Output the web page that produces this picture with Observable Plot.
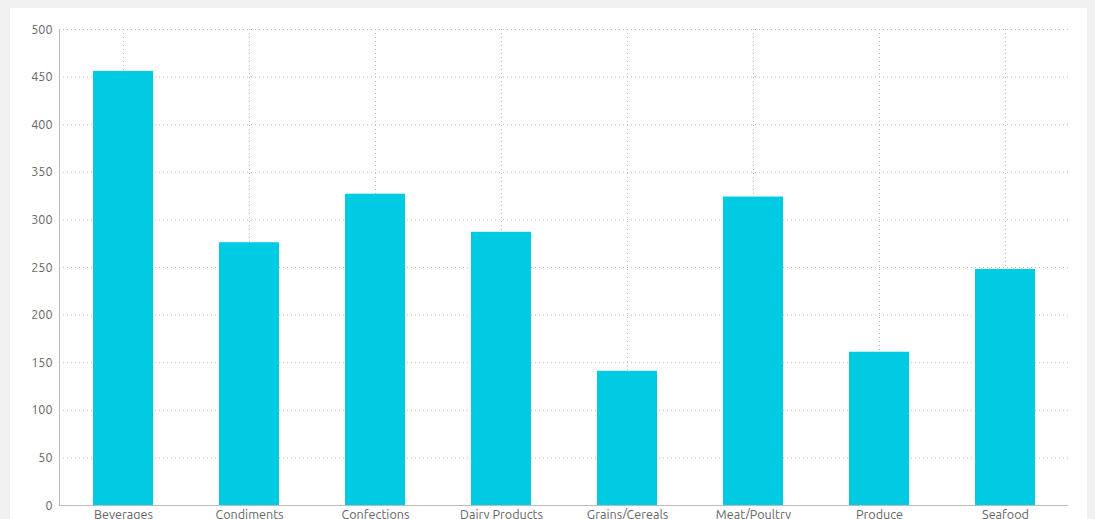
<!DOCTYPE html>
<html><head><meta charset="utf-8">
<script src="https://cdn.jsdelivr.net/npm/d3@7"></script>
<script src="https://cdn.jsdelivr.net/npm/@observablehq/plot@0.6"></script>
<style>
html,body{margin:0;padding:0;background:#f0f0f0;overflow:hidden;width:1095px;height:519px;}
#panel{position:absolute;left:10px;top:8px;width:1077px;height:560px;background:#fff;}
</style></head>
<body><div id="panel"></div>
<script>
const categories = ["Beverages","Condiments","Confections","Dairy Products","Grains/Cereals","Meat/Poultry","Produce","Seafood"];
const values = [456, 276, 327, 287, 141, 324, 161, 248];
const yTicks = [0,50,100,150,200,250,300,350,400,450,500];
const data = categories.map((c,i)=>({category:c, value:values[i]}));
const chart = Plot.plot({
  width:1077, height:530,
  marginLeft:49, marginRight:19, marginTop:21, marginBottom:33,
  style:{fontFamily:"Ubuntu, 'Open Sans', sans-serif", fontSize:"12.6px", color:"#666", background:"transparent"},
  x:{domain:categories, paddingInner:0.524, paddingOuter:0.262, label:null},
  y:{domain:[0,500], ticks:yTicks, label:null},
  marks:[
    Plot.gridY(yTicks,{stroke:"#bbb", strokeOpacity:1, strokeDasharray:"1,3"}),
    Plot.gridX(categories,{stroke:"#bbb", strokeOpacity:1, strokeDasharray:"1,3"}),
    Plot.barY(data,{x:"category", y:"value", fill:"#00cbe3"}),
    Plot.frame({anchor:"left", stroke:"#bbb"}),
    Plot.ruleY([0],{stroke:"#bbb"}),
    Plot.axisY({ticks:yTicks, tickSize:0, tickPadding:7, fill:"#666", label:null}),
    Plot.axisX({tickSize:0, tickPadding:5, fill:"#666", label:null})
  ]
});
document.getElementById("panel").appendChild(chart);
</script></body></html>
